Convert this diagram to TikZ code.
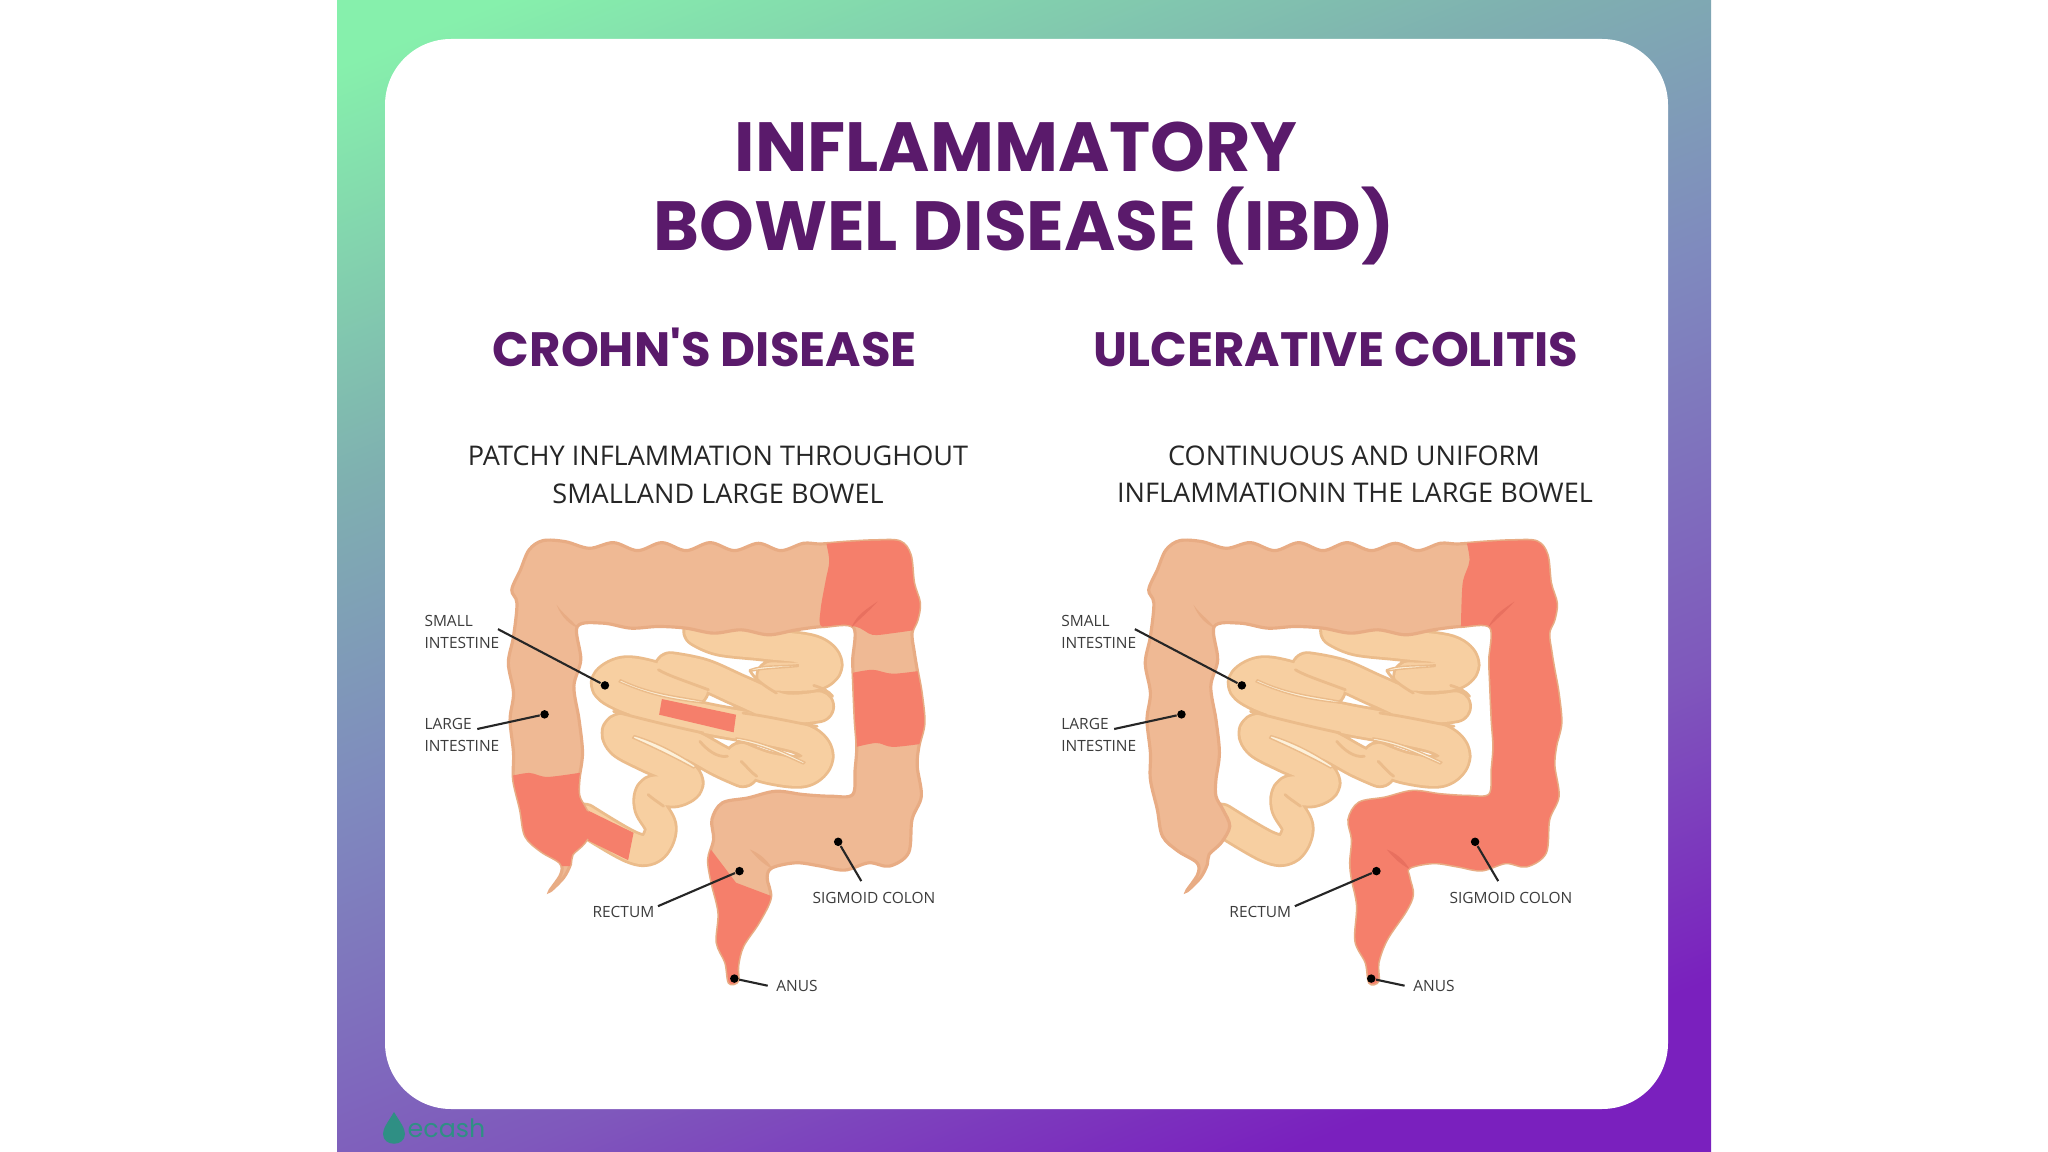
\documentclass[tikz,border=0pt]{standalone}
\usepackage{fontspec}
\setmainfont{Open Sans}
\newfontfamily\headfont{Poppins}
\definecolor{titlepurple}{HTML}{5A1A6B}
\definecolor{labelgray}{HTML}{3C3C3C}
\definecolor{colontan}{HTML}{EFB994}
\definecolor{colonedge}{HTML}{E8AC84}
\definecolor{inflamed}{HTML}{F57F6B}
\definecolor{inflamededge}{HTML}{E8705F}
\definecolor{gutfill}{HTML}{F7CFA1}
\definecolor{gutedge}{HTML}{EBBC8B}
\definecolor{slitcream}{HTML}{FDF1DA}
\definecolor{logogreen}{HTML}{2F8F84}
\definecolor{bandA}{HTML}{86F0AC}
\definecolor{bandB}{HTML}{7FB0B0}
\definecolor{bandC}{HTML}{7F8ABE}
\definecolor{bandD}{HTML}{7F58BC}
\definecolor{bandE}{HTML}{7A20BE}
\pgfdeclareverticalshading{bandshade}{100bp}{
  color(0bp)=(bandE);
  color(24bp)=(bandE);
  color(36bp)=(bandD);
  color(52bp)=(bandC);
  color(64bp)=(bandB);
  color(80bp)=(bandA);
  color(100bp)=(bandA)}
\tikzset{
  maintitle/.style={font=\headfont\fontsize{19.8}{24}\selectfont\bfseries,text=titlepurple,inner sep=0pt,anchor=base},
  subtitle/.style={font=\headfont\fontsize{13.7}{17}\selectfont\bfseries,text=titlepurple,inner sep=0pt,anchor=base},
  caption/.style={font=\fontsize{7.7}{10}\selectfont,text=black!85,inner sep=0pt,anchor=base},
  partlabel/.style={font=\fontsize{4.4}{6.2}\selectfont,text=labelgray,inner sep=0pt,align=left},
  pin/.style={circle,fill=black,inner sep=0pt,minimum size=0.085cm},
  leader/.style={draw=black!85,line width=0.6pt},
  colon/.style={fill=colontan,draw=colonedge,line width=0.9pt},
  gutwall/.style={draw=gutedge,line width=9.6pt,line cap=round,line join=round},
  gutcore/.style={draw=gutfill,line width=8.0pt,line cap=round,line join=round},
  patch/.style={fill=inflamed,draw=none},
  seam/.style={draw=gutedge,line width=0.8pt,line cap=round},
  slit/.style={draw=gutedge,fill=slitcream,line width=0.4pt,line join=round},
}
\newcommand{\colonshape}[1]{plot[smooth cycle,tension=0.55] coordinates {
  (345,90) (385,62) (450,65) (520,85) (590,68) (660,92) (730,68) (800,92) (870,68)
  (940,92) (1010,70) (1075,92) (1140,70) (1190,72) (1270,66) (1350,62) (1420,65)
  (1450,105) (1460,190) (1477,250) (1470,300) (1455,340) (1462,400) (1470,450)
  (1482,520) (1490,610) (1475,680) (1470,740) (1482,830) (1455,900) (1445,1000)
  (1390,1040) (1330,1030) (1260,1052) (1190,1040) (1120,1030) (1050,1045)
  #1
  (875,900) (905,850) (980,835) (1060,815) (1140,825) (1220,830) (1283,825)
  (1290,750) (1295,680) (1290,600) (1285,480) (1283,420) (1285,322) (1200,320)
  (1120,330) (1040,345) (960,330) (880,340) (800,325) (720,320) (640,325) (560,310)
  (485,320) (495,420) (475,500) (490,600) (500,700) (490,780) (490,830) (510,870)
  (530,920) (505,970) (470,1005) (465,1035) (445,1075) (405,1115) (437,1065)
  (435,1030) (380,995) (335,950) (320,870) (300,780) (300,700) (290,600) (300,520)
  (285,430) (300,350) (310,250) (295,210) (320,150)}}
\newcommand{\colonleft}{\colonshape{(1035,1075) (1045,1135) (1010,1210) (965,1280) (950,1340)
  (950,1385) (925,1390) (915,1330) (890,1270) (895,1180) (875,1090) (865,1020) (880,960)}}
\newcommand{\colonright}{\colonshape{(1050,1075) (1060,1125) (1040,1175) (985,1260) (960,1330)
  (960,1385) (935,1390) (925,1330) (895,1265) (900,1160) (885,1080) (880,1030) (885,960)}}
\newcommand{\gutpath}{
  plot[smooth,tension=0.6] coordinates {(838,333) (900,360) (1030,375) (1165,393) (1208,435) (1165,468) (1050,470)}
  plot[smooth,tension=0.6] coordinates {(755,445) (850,465) (960,515) (1080,565) (1183,560)}
  plot[smooth,tension=0.6] coordinates {(505,900) (640,982) (700,985) (727,925) (695,860) (705,815) (770,815) (805,790) (770,748) (690,710) (615,668) (607,630) (680,632) (800,670) (900,725) (965,755)}
  plot[smooth,tension=0.6] coordinates {(960,715) (1040,745) (1140,755) (1182,710) (1140,660) (1000,625) (870,600) (720,565) (610,525) (570,490) (620,458) (700,470) (790,505) (820,510)}
}
\newcommand{\smallbowel}{
  \draw[gutwall] \gutpath;
  \draw[gutcore] \gutpath;
  \draw[slit] (610,480) .. controls (700,525) and (780,530) .. (850,545) -- (850,550) .. controls (760,540) and (690,525) .. (606,486) -- cycle;
  \draw[slit] (650,648) .. controls (720,670) and (780,705) .. (830,740) -- (822,745) .. controls (770,715) and (710,685) .. (645,655) -- cycle;
  \draw[slit] (985,450) .. controls (1020,435) and (1080,440) .. (1125,435) -- (1125,440) .. controls (1080,445) and (1030,445) .. (985,455) -- cycle;
  \draw[slit] (945,655) .. controls (1020,665) and (1090,700) .. (1145,728) -- (1140,733) .. controls (1080,705) and (1020,675) .. (945,662) -- cycle;
  \draw[seam] (985,452) .. controls (1000,480) and (1030,500) .. (1062,520);
  \draw[seam] (720,450) .. controls (745,465) and (765,472) .. (865,510);
  \draw[seam] (965,580) .. controls (1040,590) and (1120,610) .. (1180,620);
  \draw[seam] (850,640) .. controls (760,620) and (680,600) .. (590,575);
  \draw[seam] (920,710) .. controls (890,715) and (860,690) .. (840,665);
  \draw[seam] (960,725) .. controls (975,740) and (990,760) .. (1005,770);
  \draw[seam] (1170,497) .. controls (1195,505) and (1215,515) .. (1225,530);
  \draw[seam] (735,860) .. controls (715,845) and (700,835) .. (690,825);
}
\newcommand{\bowellabels}[1]{
  \node[pin] (#1smallpin) at (565,497) {};
  \node[pin] (#1largepin) at (390,584) {};
  \node[pin] (#1sigmoidpin) at (1241,967) {};
  \node[pin] (#1rectumpin) at (955,1055) {};
  \node[pin] (#1anuspin) at (940,1378) {};
  \node[partlabel,anchor=west] (#1small) at (40,337) {SMALL\\INTESTINE};
  \node[partlabel,anchor=west] (#1large) at (40,647) {LARGE\\INTESTINE};
  \node[partlabel,anchor=base west] (#1sigmoid) at (1165,1152) {SIGMOID COLON};
  \node[partlabel,anchor=base west] (#1rectum) at (527,1195) {RECTUM};
  \node[partlabel,anchor=base west] (#1anus) at (1060,1416) {ANUS};
  \coordinate (#1largeend) at (195,628);
  \coordinate (#1sigmoidend) at (1308,1085);
  \draw[leader] (#1smallpin) -- ([xshift=-0.02cm,yshift=0.03cm]#1small.east);
  \draw[leader] (#1largepin) -- (#1largeend);
  \draw[leader] (#1sigmoidpin) -- (#1sigmoidend);
  \draw[leader] (#1rectumpin) -- ([xshift=0.03cm,yshift=0.06cm]#1rectum.east);
  \draw[leader] (#1anuspin) -- ([xshift=-0.08cm]#1anus.west);
}
\begin{document}
\begin{tikzpicture}[x=0.01cm,y=-0.01cm]
  \useasboundingbox (0,0) rectangle (2048,1152);
  \shade[shading=bandshade,shading angle=22] (337,0) rectangle (1711,1152);
  \fill[white,rounded corners=0.66cm] (385,39) rectangle (1668,1109);
  \node[maintitle] (titleone) at (1016,172) {INFLAMMATORY};
  \node[maintitle] (titletwo) at (1024,251) {BOWEL DISEASE (IBD)};
  \node[subtitle] (crohn) at (705,367) {CROHN'S DISEASE};
  \node[subtitle] (colitis) at (1336,367) {ULCERATIVE COLITIS};
  \node[caption] (crohnone) at (718,466) {PATCHY INFLAMMATION THROUGHOUT};
  \node[caption] (crohntwo) at (718,504) {SMALLAND LARGE BOWEL};
  \node[caption] (colitisone) at (1354,466) {CONTINUOUS AND UNIFORM};
  \node[caption] (colitistwo) at (1355,503) {INFLAMMATIONIN THE LARGE BOWEL};
  % crohn side
  \begin{scope}[shift={(410,520)},x=0.003444cm,y=-0.003333cm]
    \smallbowel
    \fill[patch] (730,538) -- (945,585) -- (938,638) -- (722,585) -- cycle;
    \fill[patch] (490,830) -- (510,870) -- (648,940) -- (632,1022) -- (510,960) -- cycle;
    \draw[colon] \colonleft;
    \begin{scope}
      \clip \colonleft;
      \fill[patch] plot[smooth,tension=0.5] coordinates {(1200,40) (1215,120) (1205,180) (1190,270) (1195,322) (1290,320) (1340,345) (1400,340) (1500,325)} -- (1500,40) -- cycle;
      \fill[patch] plot[smooth,tension=0.5] coordinates {(1270,462) (1340,450) (1400,462) (1500,450)} -- (1500,670) -- plot[smooth,tension=0.5] coordinates {(1500,670) (1400,682) (1350,670) (1270,688)} -- cycle;
      \fill[patch] plot[smooth,tension=0.5] coordinates {(280,772) (345,760) (400,772) (520,755)} -- (520,1040) -- (280,1040) -- cycle;
      \fill[patch] (850,960) -- (945,1090) -- (1060,1135) -- (1060,1400) -- (850,1400) -- cycle;
    \end{scope}
    \fill[patch] (497,850) -- (510,873) -- (645,940) -- (632,1020) -- (510,955) -- cycle;
    \fill[inflamededge] (1355,245) .. controls (1320,270) and (1295,285) .. (1280,322) .. controls (1300,300) and (1330,275) .. (1355,245) -- cycle;
    \fill[colonedge] (425,255) .. controls (445,285) and (470,300) .. (487,325) .. controls (465,315) and (440,295) .. (425,255) -- cycle;
    \fill[colonedge] (985,990) .. controls (1010,1000) and (1035,1020) .. (1050,1048) .. controls (1025,1035) and (1005,1015) .. (985,990) -- cycle;
    \bowellabels{crohn}
  \end{scope}
  % colitis side
  \begin{scope}[shift={(1046.9,520)},x=0.003444cm,y=-0.003333cm]
    \smallbowel
    \draw[colon] \colonright;
    \begin{scope}
      \clip \colonright;
      \fill[patch] plot[smooth,tension=0.5] coordinates {(1210,40) (1225,120) (1205,190) (1200,322)} -- (1200,800) -- (840,800) -- (840,1420) -- (1560,1420) -- (1560,40) -- cycle;
    \end{scope}
    \fill[inflamededge] (1355,245) .. controls (1320,270) and (1295,285) .. (1280,322) .. controls (1300,300) and (1330,275) .. (1355,245) -- cycle;
    \fill[colonedge] (425,255) .. controls (445,285) and (470,300) .. (487,325) .. controls (465,315) and (440,295) .. (425,255) -- cycle;
    \fill[inflamededge] (985,990) .. controls (1010,1000) and (1035,1020) .. (1050,1048) .. controls (1025,1035) and (1005,1015) .. (985,990) -- cycle;
    \bowellabels{colitis}
  \end{scope}
  % logo
  \fill[logogreen] (394,1112) .. controls (388,1122) and (383,1128) .. (383,1134) .. controls (383,1147) and (405,1147) .. (405,1134) .. controls (405,1128) and (400,1122) .. (394,1112) -- cycle;
  \node[font=\headfont\fontsize{7.2}{9}\selectfont,text=logogreen,inner sep=0pt,anchor=west] (logo) at (407,1128) {ecash};
\end{tikzpicture}
\end{document}
